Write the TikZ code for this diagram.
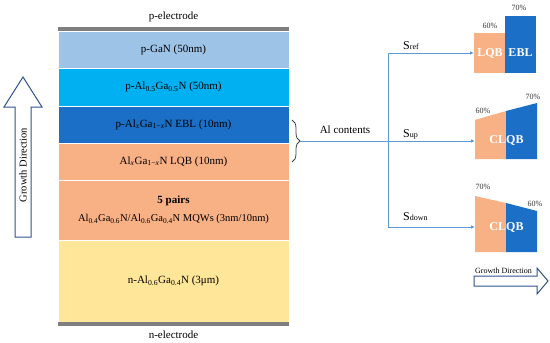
\documentclass[tikz,border=0pt]{standalone}
\usepackage{fontspec}
\setmainfont{Liberation Serif}
\usepackage{tikz}
\usetikzlibrary{positioning, arrows.meta, decorations.pathreplacing}
\definecolor{pganblue}{HTML}{9DC3E6}
\definecolor{palganblue}{HTML}{00B0F0}
\definecolor{eblblue}{HTML}{1B6FC6}
\definecolor{lqbsalmon}{HTML}{F8B085}
\definecolor{nyellow}{HTML}{FFE699}
\definecolor{electrodegray}{HTML}{7F7F7F}
\definecolor{linkblue}{HTML}{5B9BD5}
\definecolor{arrowblue}{HTML}{2F528F}

\tikzset{
  layer/.style={minimum width=231pt, inner sep=0pt, outer sep=0pt, draw=white, line width=0.8pt,
                font=\fontsize{11}{13}\selectfont, align=center},
  electrode/.style={fill=electrodegray, minimum width=231pt, minimum height=4pt, inner sep=0pt, outer sep=0pt},
  link/.style={draw=linkblue, line width=0.9pt, -{Latex[length=4pt,width=3.5pt]}},
  pct/.style={font=\fontsize{8}{9}\selectfont, text=black!80, inner sep=0pt},
  boxlabel/.style={text=white, font=\bfseries\fontsize{12}{14}\selectfont, inner sep=0pt},
  growarrow/.style={draw=arrowblue, line width=1pt, fill=white, line join=miter},
  slabel/.style={anchor=base west, inner sep=0pt, font=\fontsize{12}{14}\selectfont},
}

\begin{document}
\begin{tikzpicture}[x=1pt, y=-1pt]
  \useasboundingbox (0,0) rectangle (550,343);

  % layer stack
  \node[layer, fill=pganblue, minimum height=37pt] (pgan) at (173.5,49.5) {p-GaN (50nm)};
  \node[layer, fill=palganblue, minimum height=38pt, below=0pt of pgan] (palgan)
    {p-Al\textsubscript{0.5}Ga\textsubscript{0.5}N (50nm)};
  \node[layer, fill=eblblue, minimum height=37pt, below=0pt of palgan] (ebl)
    {p-Al\textsubscript{\textit{x}}Ga\textsubscript{1−\textit{x}}N EBL (10nm)};
  \node[layer, fill=lqbsalmon, minimum height=37pt, below=0pt of ebl] (lqb)
    {Al\textsubscript{\textit{x}}Ga\textsubscript{1−\textit{x}}N LQB (10nm)};
  \node[layer, fill=lqbsalmon, minimum height=60pt, below=0pt of lqb] (mqw)
    {\textbf{5 pairs}\\[5pt]
     {\fontsize{10.5}{12}\selectfont Al\textsubscript{0.4}Ga\textsubscript{0.6}N/Al\textsubscript{0.6}Ga\textsubscript{0.4}N MQWs (3nm/10nm)}};
  \node[layer, fill=nyellow, minimum height=82pt, below=0pt of mqw] (nalgan)
    {n-Al\textsubscript{0.6}Ga\textsubscript{0.4}N (3μm)};

  % electrodes
  \node[electrode, above=0pt of pgan] (ptop) {};
  \node[above=2pt of ptop, font=\fontsize{11}{13}\selectfont] (plabel) {p-electrode};
  \node[electrode, below=0pt of nalgan] (nbot) {};
  \node[below=1pt of nbot, font=\fontsize{11}{13}\selectfont] (nlabel) {n-electrode};

  % vertical growth arrow
  \draw[growarrow] (23,77) -- (42,107) -- (31,107) -- (31,237) -- (15,237) -- (15,107) -- (4,107) -- cycle;
  \node[rotate=90, font=\fontsize{10.5}{12}\selectfont] (growup) at (23,165) {Growth Direction};

  % brace and links
  \draw[decorate, decoration={brace, amplitude=8pt}, line width=0.8pt, draw=black!75] (292,120) -- (292,162);
  \coordinate (bracetip) at (300,141);
  \coordinate (split) at (388,141);
  \coordinate (refin) at (474,53);
  \coordinate (upin) at (475,141);
  \coordinate (downin) at (475,227);
  \node[font=\fontsize{11}{13}\selectfont] (alcont) at (345,130) {Al contents};
  \draw[link] (bracetip) -- (upin);
  \draw[link] (split) |- (refin);
  \draw[link] (split) |- (downin);
  \node[slabel] (sref) at (403,49) {S{\fontsize{8}{9}\selectfont ref}};
  \node[slabel] (sup) at (403,137) {S{\fontsize{8}{9}\selectfont up}};
  \node[slabel] (sdown) at (403,220) {S{\fontsize{8}{9}\selectfont down}};

  % reference structure
  \fill[lqbsalmon] (474,33) rectangle (505,73);
  \fill[eblblue] (505,16) rectangle (536,73);
  \node[boxlabel] (reflqb) at (490,53) {LQB};
  \node[boxlabel] (refebl) at (520.5,53) {EBL};
  \node[pct] (refsixty) at (490,26) {60\%};
  \node[pct] (refseventy) at (519,8) {70\%};

  % graded up
  \fill[lqbsalmon] (475,120) -- (506,111) -- (506,159) -- (475,159) -- cycle;
  \fill[eblblue] (506,111) -- (537,103) -- (537,159) -- (506,159) -- cycle;
  \node[boxlabel] (upclqb) at (506.5,140) {CLQB};
  \node[pct] (upsixty) at (483,111) {60\%};
  \node[pct] (upseventy) at (533,97) {70\%};

  % graded down
  \fill[lqbsalmon] (475,196) -- (506,203) -- (506,252) -- (475,252) -- cycle;
  \fill[eblblue] (506,203) -- (537,211) -- (537,252) -- (506,252) -- cycle;
  \node[boxlabel] (downclqb) at (506.5,227) {CLQB};
  \node[pct] (downseventy) at (483,187) {70\%};
  \node[pct] (downsixty) at (535,204) {60\%};

  % horizontal growth arrow
  \draw[growarrow] (474,276) -- (537,276) -- (537,268) -- (548,281) -- (537,294) -- (537,286) -- (474,286) -- cycle;
  \node[anchor=base west, inner sep=0pt, font=\fontsize{8}{9}\selectfont] (growright) at (475,273) {Growth Direction};
\end{tikzpicture}
\end{document}
